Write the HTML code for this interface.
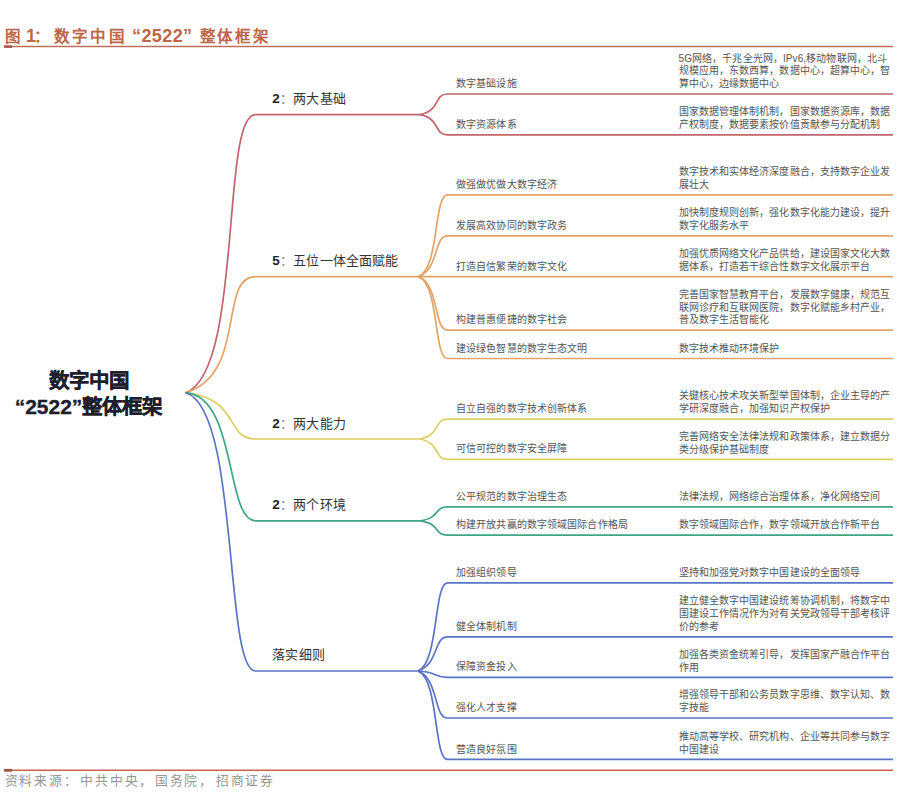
<!DOCTYPE html>
<html lang="zh-CN"><head><meta charset="utf-8"><style>
html,body{margin:0;padding:0;background:#fff;}
body{width:910px;height:796px;position:relative;overflow:hidden;font-family:"Liberation Sans",sans-serif;}
div{position:absolute;white-space:nowrap;}
.title{top:26.5px;font-size:15.5px;line-height:20px;font-weight:bold;color:#bd6649;}
.root{left:8px;width:161px;font-size:20.5px;line-height:26px;font-weight:bold;color:#1e1e2c;-webkit-text-stroke:0.35px #1e1e2c;text-align:center;}
.l1{font-size:13px;letter-spacing:0.18px;line-height:18px;color:#333;}
.l1 b{font-weight:bold;color:#222;font-size:13.5px;}
.l1 i{font-style:normal;color:#888;}
.sl{font-size:10px;letter-spacing:0.11px;line-height:14px;color:#555;}
.ds{font-size:10px;letter-spacing:0.1px;line-height:14px;color:#555;}
.foot{top:772.5px;font-size:12.8px;line-height:17px;color:#979797;letter-spacing:1.85px;font-family:"Liberation Serif",serif;}
</style></head><body>
<svg width="910" height="796" viewBox="0 0 910 796" style="position:absolute;left:0;top:0"><line x1="4" y1="46.6" x2="893" y2="46.6" stroke="#c0705a" stroke-width="1.5"/><rect x="4" y="45.3" width="8" height="2.6" fill="#a85a48"/><line x1="4" y1="770.3" x2="893" y2="770.3" stroke="#c8654f" stroke-width="1.5"/><rect x="4" y="768.9" width="8" height="2.8" fill="#a05444"/><path d="M185.5,392.8 C243.3,371.9 220.4,114.7 255.5,114.7 L420.0,114.7" stroke="#c4646e" stroke-width="1.7" fill="none"/><path d="M420.0,114.7 C441.0,110.56 433.5,94.0 447.5,94.0 L893.0,94.0" stroke="#c4646e" stroke-width="1.7" fill="none"/><path d="M420.0,114.7 C441.0,118.72 433.5,134.8 447.5,134.8 L893.0,134.8" stroke="#c4646e" stroke-width="1.7" fill="none"/><path d="M185.5,392.8 C247.9,373.8 217.7,276.6 255.5,276.6 L418.5,276.6" stroke="#e2a468" stroke-width="1.7" fill="none"/><path d="M418.5,276.6 C439.5,268.6 433.5,194.8 447.5,194.8 L893.0,194.8" stroke="#e2a468" stroke-width="1.7" fill="none"/><path d="M418.5,276.6 C439.5,268.6 433.5,235.9 447.5,235.9 L893.0,235.9" stroke="#e2a468" stroke-width="1.7" fill="none"/><path d="M418.5,276.6 L893.0,276.6" stroke="#e2a468" stroke-width="1.7" fill="none"/><path d="M418.5,276.6 C439.5,284.6 433.5,330.2 447.5,330.2 L893.0,330.2" stroke="#e2a468" stroke-width="1.7" fill="none"/><path d="M418.5,276.6 C439.5,284.6 433.5,358.5 447.5,358.5 L893.0,358.5" stroke="#e2a468" stroke-width="1.7" fill="none"/><path d="M185.5,392.8 C241.0,398.4 224.5,439.0 255.5,439.0 L420.0,439.0" stroke="#dccf66" stroke-width="1.7" fill="none"/><path d="M420.0,439.0 C441.0,435.02 433.5,419.1 447.5,419.1 L893.0,419.1" stroke="#dccf66" stroke-width="1.7" fill="none"/><path d="M420.0,439.0 C441.0,443.06 433.5,459.3 447.5,459.3 L893.0,459.3" stroke="#dccf66" stroke-width="1.7" fill="none"/><path d="M185.5,392.8 C237.0,395.3 225.4,520.8 255.5,520.8 L420.0,520.8" stroke="#3fa586" stroke-width="1.7" fill="none"/><path d="M420.0,520.8 C441.0,518.02 433.5,506.9 447.5,506.9 L893.0,506.9" stroke="#3fa586" stroke-width="1.7" fill="none"/><path d="M420.0,520.8 C441.0,523.66 433.5,535.1 447.5,535.1 L893.0,535.1" stroke="#3fa586" stroke-width="1.7" fill="none"/><path d="M185.5,392.8 C239.5,407.2 223.9,671.0 255.5,671.0 L418.0,671.0" stroke="#5a74c8" stroke-width="1.7" fill="none"/><path d="M418.0,671.0 C439.0,663.0 433.5,582.9 447.5,582.9 L893.0,582.9" stroke="#5a74c8" stroke-width="1.7" fill="none"/><path d="M418.0,671.0 C439.0,664.16 433.5,636.8 447.5,636.8 L893.0,636.8" stroke="#5a74c8" stroke-width="1.7" fill="none"/><path d="M418.0,671.0 C439.0,672.26 433.5,677.3 447.5,677.3 L893.0,677.3" stroke="#5a74c8" stroke-width="1.7" fill="none"/><path d="M418.0,671.0 C439.0,679.0 433.5,718.0 447.5,718.0 L893.0,718.0" stroke="#5a74c8" stroke-width="1.7" fill="none"/><path d="M418.0,671.0 C439.0,679.0 433.5,759.4 447.5,759.4 L893.0,759.4" stroke="#5a74c8" stroke-width="1.7" fill="none"/></svg>
<div class="title" style="left:4.5px">图</div>
<div class="title" style="left:26px;font-size:18px;top:25.5px">1</div>
<div class="title" style="left:34px">：</div>
<div class="title" style="left:53.5px;letter-spacing:2.4px">数字中国</div>
<div class="title" style="left:132px;font-size:18px;top:25.5px;letter-spacing:0.4px">“2522”</div>
<div class="title" style="left:199.5px;letter-spacing:1.8px">整体框架</div>
<div class="root" style="top:367.8px">数字中国</div>
<div class="root" style="top:394px"><span style="font-size:21px">“2522”</span>整体框架</div>
<div class="sl" style="left:456px;top:77.10px">数字基础设施</div><div class="ds" style="left:678.5px;top:51.50px">5G网络，千兆全光网，IPv6,移动物联网，北斗</div><div class="ds" style="left:678.5px;top:64.35px">规模应用，东数西算，数据中心，超算中心，智</div><div class="ds" style="left:678.5px;top:77.20px">算中心，边缘数据中心</div><div class="sl" style="left:456px;top:117.90px">数字资源体系</div><div class="ds" style="left:678.5px;top:105.15px">国家数据管理体制机制，国家数据资源库，数据</div><div class="ds" style="left:678.5px;top:118.00px">产权制度，数据要素按价值贡献参与分配机制</div><div class="l1" style="left:272.3px;top:89.90px"><b>2</b><i>：</i>两大基础</div><div class="sl" style="left:456px;top:177.90px">做强做优做大数字经济</div><div class="ds" style="left:678.5px;top:165.15px">数字技术和实体经济深度融合，支持数字企业发</div><div class="ds" style="left:678.5px;top:178.00px">展壮大</div><div class="sl" style="left:456px;top:219.00px">发展高效协同的数字政务</div><div class="ds" style="left:678.5px;top:206.25px">加快制度规则创新，强化数字化能力建设，提升</div><div class="ds" style="left:678.5px;top:219.10px">数字化服务水平</div><div class="sl" style="left:456px;top:259.70px">打造自信繁荣的数字文化</div><div class="ds" style="left:678.5px;top:246.95px">加强优质网络文化产品供给，建设国家文化大数</div><div class="ds" style="left:678.5px;top:259.80px">据体系，打造若干综合性数字文化展示平台</div><div class="sl" style="left:456px;top:313.30px">构建普惠便捷的数字社会</div><div class="ds" style="left:678.5px;top:287.70px">完善国家智慧教育平台，发展数字健康，规范互</div><div class="ds" style="left:678.5px;top:300.55px">联网诊疗和互联网医院，数字化赋能乡村产业，</div><div class="ds" style="left:678.5px;top:313.40px">普及数字生活智能化</div><div class="sl" style="left:456px;top:341.60px">建设绿色智慧的数字生态文明</div><div class="ds" style="left:678.5px;top:341.70px">数字技术推动环境保护</div><div class="l1" style="left:272.3px;top:252.30px"><b>5</b><i>：</i>五位一体全面赋能</div><div class="sl" style="left:456px;top:402.20px">自立自强的数字技术创新体系</div><div class="ds" style="left:678.5px;top:389.45px">关键核心技术攻关新型举国体制，企业主导的产</div><div class="ds" style="left:678.5px;top:402.30px">学研深度融合，加强知识产权保护</div><div class="sl" style="left:456px;top:442.40px">可信可控的数字安全屏障</div><div class="ds" style="left:678.5px;top:429.65px">完善网络安全法律法规和政策体系，建立数据分</div><div class="ds" style="left:678.5px;top:442.50px">类分级保护基础制度</div><div class="l1" style="left:272.3px;top:415.10px"><b>2</b><i>：</i>两大能力</div><div class="sl" style="left:456px;top:490.00px">公平规范的数字治理生态</div><div class="ds" style="left:678.5px;top:490.10px">法律法规，网络综合治理体系，净化网络空间</div><div class="sl" style="left:456px;top:518.20px">构建开放共赢的数字领域国际合作格局</div><div class="ds" style="left:678.5px;top:518.30px">数字领域国际合作，数字领域开放合作新平台</div><div class="l1" style="left:272.3px;top:496.00px"><b>2</b><i>：</i>两个环境</div><div class="sl" style="left:456px;top:566.00px">加强组织领导</div><div class="ds" style="left:678.5px;top:566.10px">坚持和加强党对数字中国建设的全面领导</div><div class="sl" style="left:456px;top:619.90px">健全体制机制</div><div class="ds" style="left:678.5px;top:594.30px">建立健全数字中国建设统筹协调机制，将数字中</div><div class="ds" style="left:678.5px;top:607.15px">国建设工作情况作为对有关党政领导干部考核评</div><div class="ds" style="left:678.5px;top:620.00px">价的参考</div><div class="sl" style="left:456px;top:660.40px">保障资金投入</div><div class="ds" style="left:678.5px;top:647.65px">加强各类资金统筹引导，发挥国家产融合作平台</div><div class="ds" style="left:678.5px;top:660.50px">作用</div><div class="sl" style="left:456px;top:701.10px">强化人才支撑</div><div class="ds" style="left:678.5px;top:688.35px">增强领导干部和公务员数字思维、数字认知、数</div><div class="ds" style="left:678.5px;top:701.20px">字技能</div><div class="sl" style="left:456px;top:742.50px">营造良好氛围</div><div class="ds" style="left:678.5px;top:729.75px">推动高等学校、研究机构、企业等共同参与数字</div><div class="ds" style="left:678.5px;top:742.60px">中国建设</div><div class="l1" style="left:272.3px;top:645.90px">落实细则</div>
<div class="foot" style="left:4.6px">资料来源：</div>
<div class="foot" style="left:80px">中共中央，</div>
<div class="foot" style="left:154.8px">国务院，</div>
<div class="foot" style="left:215.7px">招商证券</div>
</body></html>
